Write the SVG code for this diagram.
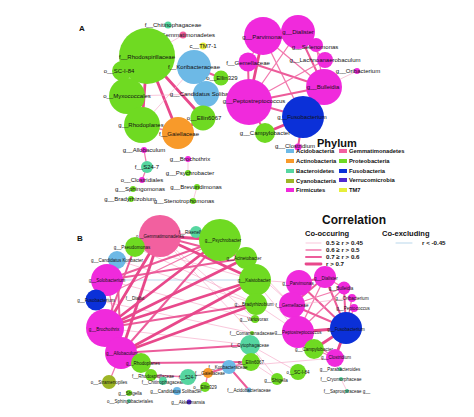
<svg xmlns="http://www.w3.org/2000/svg" width="474" height="417" viewBox="0 0 474 417">
<style>
text{font-family:"Liberation Sans",Arial,sans-serif;fill:#111}
.la text{font-size:6px;text-anchor:middle}
.lb text{font-size:4.5px;text-anchor:middle}
.pt{font-size:8px;font-weight:bold}
.lg{font-weight:bold}
.lr{font-weight:bold;font-size:6.2px}
.fir{fill:#F02ADC}.pro{fill:#6FDA22}.aci{fill:#6DB9E6}.act{fill:#F89A2A}.bac{fill:#56D6A0}
.cya{fill:#9DB526}.fus{fill:#0B30D8}.ver{fill:#5028D0}.tm7{fill:#E6EE3A}.gem{fill:#F2609F}
line{stroke-linecap:round}
.e1{stroke:#F6AFCB;stroke-width:.7}
.e2{stroke:#F27AAE;stroke-width:1.3}
.e3{stroke:#EC5C9A;stroke-width:2}
.e4{stroke:#E8488B;stroke-width:2.8}
.en{stroke:#A7CDE6;stroke-width:.8}
</style>
<rect width="474" height="417" fill="#fff"/>
<text class="pt" x="79" y="31">A</text>
<text class="pt" x="77" y="241">B</text>

<g id="connectors">
<!-- panel A -->
<line class="e1" x1="147" y1="56" x2="183" y2="35"/>
<line class="e3" x1="147" y1="56" x2="122" y2="71"/>
<line class="e4" x1="147" y1="56" x2="127" y2="96"/>
<line class="e4" x1="147" y1="56" x2="142" y2="125"/>
<line class="e4" x1="147" y1="56" x2="178" y2="133"/>
<line class="e4" x1="147" y1="56" x2="203" y2="118"/>
<line class="e3" x1="194" y1="67" x2="221" y2="78"/>
<line class="e1" x1="194" y1="67" x2="142" y2="125"/>
<line class="e1" x1="127" y1="96" x2="206" y2="94"/>
<line class="e4" x1="127" y1="96" x2="142" y2="125"/>
<line class="e4" x1="203" y1="118" x2="178" y2="133"/>
<line class="e2" x1="142" y1="125" x2="178" y2="133"/>
<line class="e4" x1="263" y1="36" x2="298" y2="32"/>
<line class="e4" x1="263" y1="36" x2="249" y2="102"/>
<line class="e2" x1="263" y1="36" x2="303" y2="117"/>
<line class="e2" x1="263" y1="36" x2="324" y2="87"/>
<line class="e2" x1="263" y1="36" x2="248" y2="62"/>
<line class="e2" x1="298" y1="32" x2="249" y2="102"/>
<line class="e3" x1="298" y1="32" x2="324" y2="87"/>
<line class="e2" x1="298" y1="32" x2="325" y2="60"/>
<line class="e2" x1="316" y1="45" x2="324" y2="87"/>
<line class="e3" x1="248" y1="62" x2="324" y2="87"/>
<line class="e3" x1="248" y1="62" x2="249" y2="102"/>
<line class="e2" x1="325" y1="60" x2="249" y2="102"/>
<line class="e3" x1="249" y1="102" x2="324" y2="87"/>
<line class="e1" x1="324" y1="87" x2="357" y2="71"/>
<line class="e3" x1="324" y1="87" x2="303" y2="117"/>
<line class="e3" x1="249" y1="102" x2="303" y2="117"/>
<line class="e3" x1="249" y1="102" x2="265" y2="133"/>
<line class="e4" x1="303" y1="117" x2="265" y2="133"/>
<line class="e3" x1="303" y1="117" x2="298" y2="147"/>
<line class="e2" x1="144" y1="150" x2="147" y2="167"/>
<line class="e2" x1="147" y1="167" x2="142" y2="180"/>
<line class="e1" x1="188" y1="159" x2="188" y2="173"/>
<line class="e1" x1="197" y1="187" x2="193" y2="201"/>
<!-- panel B left ring to middle column -->
<line class="e1" x1="220" y1="240" x2="292" y2="305"/>
<line class="e1" x1="220" y1="240" x2="298" y2="332"/>
<line class="e1" x1="160" y1="236" x2="255" y2="319"/>
<line class="e1" x1="135" y1="247" x2="255" y2="280"/>
<line class="e1" x1="117" y1="260" x2="256" y2="304"/>
<line class="e1" x1="107" y1="280" x2="255" y2="319"/>
<line class="e1" x1="96" y1="300" x2="252" y2="333"/>
<line class="e1" x1="105" y1="328" x2="250" y2="345"/>
<line class="e1" x1="246" y1="258" x2="292" y2="305"/>
<line class="e1" x1="256" y1="304" x2="298" y2="332"/>
<line class="e1" x1="255" y1="280" x2="299" y2="283"/>
<line class="e1" x1="160" y1="236" x2="252" y2="333"/>
<line class="e1" x1="135" y1="247" x2="256" y2="304"/>
<line class="e1" x1="196" y1="232" x2="160" y2="236"/>
<line class="e1" x1="250" y1="345" x2="298" y2="372"/>
<line class="e1" x1="250" y1="345" x2="277" y2="379"/>
<line class="e1" x1="251" y1="362" x2="277" y2="379"/>
<line class="e1" x1="229" y1="367" x2="335" y2="358"/>
<line class="en" x1="107" y1="280" x2="255" y2="280"/>
<line class="e2" x1="196" y1="232" x2="220" y2="240"/>
<line class="e2" x1="96" y1="300" x2="220" y2="240"/>
<line class="e2" x1="246" y1="258" x2="255" y2="280"/>
<line class="e2" x1="255" y1="280" x2="256" y2="304"/>
<line class="e2" x1="107" y1="280" x2="121" y2="353"/>
<line class="e2" x1="121" y1="353" x2="141" y2="363"/>
<line class="e2" x1="121" y1="353" x2="109" y2="382"/>
<line class="e2" x1="141" y1="363" x2="163" y2="381"/>
<line class="e2" x1="151" y1="375" x2="188" y2="377"/>
<line class="e2" x1="229" y1="367" x2="251" y2="362"/>
<line class="e2" x1="208" y1="373" x2="205" y2="387"/>
<line class="e1" x1="208" y1="373" x2="188" y2="377"/>
<line class="e3" x1="229" y1="367" x2="249" y2="390"/>
<line class="e3" x1="229" y1="367" x2="208" y2="373"/>
<line class="e3" x1="141" y1="363" x2="151" y2="375"/>
<line class="e3" x1="141" y1="363" x2="251" y2="362"/>
<line class="e3" x1="121" y1="353" x2="250" y2="345"/>
<line class="e3" x1="107" y1="280" x2="220" y2="240"/>
<line class="e3" x1="107" y1="280" x2="246" y2="258"/>
<line class="e3" x1="135" y1="247" x2="105" y2="328"/>
<line class="e3" x1="117" y1="260" x2="121" y2="353"/>
<line class="e3" x1="160" y1="236" x2="246" y2="258"/>
<line class="e3" x1="105" y1="328" x2="256" y2="304"/>
<line class="e3" x1="121" y1="353" x2="220" y2="240"/>
<line class="e3" x1="220" y1="240" x2="246" y2="258"/>
<line class="e4" x1="160" y1="236" x2="220" y2="240"/>
<line class="e4" x1="160" y1="236" x2="105" y2="328"/>
<line class="e4" x1="160" y1="236" x2="121" y2="353"/>
<line class="e4" x1="160" y1="236" x2="255" y2="280"/>
<line class="e4" x1="105" y1="328" x2="220" y2="240"/>
<line class="e4" x1="105" y1="328" x2="246" y2="258"/>
<line class="e4" x1="105" y1="328" x2="255" y2="280"/>
<line class="e4" x1="121" y1="353" x2="255" y2="280"/>
<line class="e4" x1="121" y1="353" x2="256" y2="304"/>
<!-- panel B right cluster -->
<line class="e3" x1="299" y1="283" x2="325" y2="277"/>
<line class="e3" x1="299" y1="283" x2="292" y2="305"/>
<line class="e3" x1="299" y1="283" x2="298" y2="332"/>
<line class="e3" x1="299" y1="283" x2="346" y2="328"/>
<line class="e3" x1="325" y1="277" x2="292" y2="305"/>
<line class="e2" x1="325" y1="277" x2="298" y2="332"/>
<line class="e3" x1="325" y1="277" x2="346" y2="328"/>
<line class="e2" x1="325" y1="277" x2="344" y2="288"/>
<line class="e2" x1="344" y1="288" x2="292" y2="305"/>
<line class="e2" x1="344" y1="288" x2="298" y2="332"/>
<line class="e3" x1="344" y1="288" x2="346" y2="328"/>
<line class="e2" x1="352" y1="298" x2="346" y2="328"/>
<line class="e2" x1="354" y1="308" x2="346" y2="328"/>
<line class="e1" x1="352" y1="298" x2="292" y2="305"/>
<line class="e3" x1="292" y1="305" x2="298" y2="332"/>
<line class="e3" x1="292" y1="305" x2="346" y2="328"/>
<line class="e4" x1="298" y1="332" x2="346" y2="328"/>
<line class="e3" x1="298" y1="332" x2="314" y2="349"/>
<line class="e4" x1="346" y1="328" x2="314" y2="349"/>
<line class="e4" x1="346" y1="328" x2="335" y2="358"/>
<line class="e2" x1="314" y1="349" x2="335" y2="358"/>
<line class="e2" x1="298" y1="332" x2="335" y2="358"/>
<line class="e1" x1="335" y1="358" x2="340" y2="369"/>
<line class="e1" x1="341" y1="379" x2="347" y2="391"/>
</g>

<!-- Panel A nodes -->
<g class="la">
<g id="a-chitinophagaceae"><circle class="bac" cx="168" cy="25" r="3.5"/><text x="173" y="25" dy=".35em">f__Chitinophagaceae</text></g>
<g id="a-gemmatimonadetes"><circle class="gem" cx="183" cy="35" r="3.5"/><text x="183" y="35" dy=".35em">o__Gemmatimonadetes</text></g>
<g id="a-tm7"><circle class="tm7" cx="203" cy="46" r="3.5"/><text x="203" y="46" dy=".35em">c__TM7-1</text></g>
<g id="a-rhodospirillaceae"><circle class="pro" cx="147" cy="56" r="28"/><text x="147" y="57" dy=".35em">f__Rhodospirillaceae</text></g>
<g id="a-sci84"><circle class="pro" cx="122" cy="71" r="10"/><text x="119" y="71" dy=".35em">o__SC-I-84</text></g>
<g id="a-koribacteraceae"><circle class="aci" cx="194" cy="67" r="17"/><text x="194" y="67" dy=".35em">f__Koribacteraceae</text></g>
<g id="a-ellin329"><circle class="pro" cx="221" cy="78" r="7.5"/><text x="222" y="78" dy=".35em">o__Ellin329</text></g>
<g id="a-myxococcales"><circle class="pro" cx="127" cy="96" r="18"/><text x="127" y="96" dy=".35em">o__Myxococcales</text></g>
<g id="a-solibacter"><circle class="aci" cx="206" cy="94" r="13"/><text x="204" y="94" dy=".35em">g__Candidatus Solibacter</text></g>
<g id="a-ellin6067"><circle class="pro" cx="203" cy="118" r="12.5"/><text x="204" y="118" dy=".35em">o__Ellin6067</text></g>
<g id="a-rhodoplanes"><circle class="pro" cx="142" cy="125" r="18"/><text x="141" y="125" dy=".35em">g__Rhodoplanes</text></g>
<g id="a-gaiellaceae"><circle class="act" cx="178" cy="133" r="16"/><text x="179" y="134" dy=".35em">f__Gaiellaceae</text></g>
<g id="a-parvimonas"><circle class="fir" cx="263" cy="36" r="19"/><text x="263" y="37" dy=".35em">g__Parvimonas</text></g>
<g id="a-dialister"><circle class="fir" cx="298" cy="32" r="17"/><text x="298" y="32" dy=".35em">g__Dialister</text></g>
<g id="a-selenomonas"><circle class="fir" cx="316" cy="45" r="7"/><text x="315" y="47" dy=".35em">g__Selenomonas</text></g>
<g id="a-gemellaceae"><circle class="fir" cx="248" cy="62" r="9.5"/><text x="248" y="63" dy=".35em">f__Gemellaceae</text></g>
<g id="a-lachno"><circle class="fir" cx="325" cy="60" r="8"/><text x="325" y="60" dy=".35em">g__Lachnoanaerobaculum</text></g>
<g id="a-oribacterium"><circle class="fir" cx="357" cy="71" r="3"/><text x="358" y="71" dy=".35em">g__Oribacterium</text></g>
<g id="a-bulleidia"><circle class="fir" cx="324" cy="87" r="18"/><text x="323" y="87" dy=".35em">g__Bulleidia</text></g>
<g id="a-peptostreptococcus"><circle class="fir" cx="249" cy="102" r="23"/><text x="254" y="101" dy=".35em">g__Peptostreptococcus</text></g>
<g id="a-fusobacterium"><circle class="fus" cx="303" cy="117" r="21"/><text x="302" y="117" dy=".35em">g__Fusobacterium</text></g>
<g id="a-campylobacter"><circle class="pro" cx="265" cy="133" r="10"/><text x="265" y="133" dy=".35em">g__Campylobacter</text></g>
<g id="a-clostridium"><circle class="fir" cx="298" cy="147" r="3.5"/><text x="295" y="146" dy=".35em">g__Clostridium</text></g>
<g id="a-allobaculum"><circle class="fir" cx="144" cy="150" r="3"/><text x="144" y="150" dy=".35em">g__Allobaculum</text></g>
<g id="a-s247"><circle class="bac" cx="147" cy="167" r="6"/><text x="147" y="167" dy=".35em">f__S24-7</text></g>
<g id="a-clostridiales"><circle class="fir" cx="142" cy="180" r="3"/><text x="142" y="180" dy=".35em">o__Clostridiales</text></g>
<g id="a-sphingomonas"><circle class="pro" cx="133" cy="189" r="3"/><text x="140" y="189" dy=".35em">g__Sphingomonas</text></g>
<g id="a-bradyrhizobium"><circle class="pro" cx="131" cy="199" r="3"/><text x="130" y="199" dy=".35em">g__Bradyrhizobium</text></g>
<g id="a-brochothrix"><circle class="fir" cx="188" cy="159" r="3"/><text x="190" y="159" dy=".35em">g__Brochothrix</text></g>
<g id="a-psychrobacter"><circle class="pro" cx="188" cy="173" r="3"/><text x="190" y="173" dy=".35em">g__Psychrobacter</text></g>
<g id="a-brevundimonas"><circle class="pro" cx="197" cy="187" r="3"/><text x="196" y="187" dy=".35em">g__Brevundimonas</text></g>
<g id="a-stenotrophomonas"><circle class="pro" cx="193" cy="201" r="3"/><text x="184" y="201" dy=".35em">g__Stenotrophomonas</text></g>
</g>

<!-- Phylum legend -->
<g id="legend-phylum">
<text class="lg" x="317" y="147" font-size="11">Phylum</text>
<rect class="aci" x="286" y="149" width="8" height="4"/><text class="lg" x="296" y="153" font-size="5.8">Acidobacteria</text>
<rect class="act" x="286" y="159" width="8" height="4"/><text class="lg" x="296" y="163" font-size="5.8">Actinobacteria</text>
<rect class="bac" x="286" y="169" width="8" height="4"/><text class="lg" x="296" y="173" font-size="5.8">Bacteroidetes</text>
<rect class="cya" x="286" y="179" width="8" height="4"/><text class="lg" x="296" y="183" font-size="5.8">Cyanobacteria</text>
<rect class="fir" x="286" y="188" width="8" height="4"/><text class="lg" x="296" y="192" font-size="5.8">Firmicutes</text>
<rect class="gem" x="339" y="149" width="8" height="4"/><text class="lg" x="349" y="153" font-size="5.8">Gemmatimonadetes</text>
<rect class="pro" x="339" y="159" width="8" height="4"/><text class="lg" x="349" y="163" font-size="5.8">Proteobacteria</text>
<rect class="fus" x="339" y="169" width="8" height="4"/><text class="lg" x="349" y="173" font-size="5.8">Fusobacteria</text>
<rect class="ver" x="339" y="178" width="8" height="4"/><text class="lg" x="349" y="182" font-size="5.8">Verrucomicrobia</text>
<rect class="tm7" x="339" y="188" width="8" height="4"/><text class="lg" x="349" y="192" font-size="5.8">TM7</text>
</g>

<!-- Correlation legend -->
<g id="legend-correlation">
<text class="lg" x="322" y="224" font-size="12">Correlation</text>
<text class="lg" x="305" y="235.5" font-size="7.5">Co-occuring</text>
<text class="lg" x="382" y="235.5" font-size="7.5">Co-excluding</text>
<line class="e1" x1="306" y1="243" x2="321" y2="243"/><text class="lr" x="326" y="245.2">0.5 ≥ r &gt; 0.45</text>
<line class="e2" x1="306" y1="250" x2="321" y2="250"/><text class="lr" x="326" y="252.2">0.6 ≥ r &gt; 0.5</text>
<line class="e3" x1="306" y1="257" x2="321" y2="257"/><text class="lr" x="326" y="259.2">0.7 ≥ r &gt; 0.6</text>
<line class="e4" x1="306" y1="264" x2="321" y2="264"/><text class="lr" x="326" y="266.2">r &gt; 0.7</text>
<line class="en" x1="396" y1="243" x2="412" y2="243"/><text class="lr" x="422" y="245.2">r &lt; -0.45</text>
</g>

<!-- Panel B nodes -->
<g class="lb">
<g id="b-gemmatimonadetes"><circle class="gem" cx="160" cy="236" r="21"/><text x="160" y="236" dy=".35em">o__Gemmatimonadetes</text></g>
<g id="b-rikenellaceae"><circle class="bac" cx="196" cy="232" r="6"/><text x="196" y="232" dy=".35em">f__Rikenellaceae</text></g>
<g id="b-psychrobacter"><circle class="pro" cx="220" cy="240" r="21"/><text x="223" y="240" dy=".35em">g__Psychrobacter</text></g>
<g id="b-pseudomonas"><circle class="pro" cx="135" cy="247" r="10"/><text x="132" y="247" dy=".35em">g__Pseudomonas</text></g>
<g id="b-koribacter"><circle class="aci" cx="117" cy="260" r="9"/><text x="117" y="260" dy=".35em">g__Candidatus Koribacter</text></g>
<g id="b-solobacterium"><circle class="fir" cx="107" cy="280" r="16"/><text x="107" y="280" dy=".35em">g__Solobacterium</text></g>
<g id="b-dialist"><text x="135" y="298" dy=".35em">f__Dialist</text></g>
<g id="b-fusobacterium-l"><circle class="fus" cx="96" cy="300" r="10.5"/><text x="96" y="300" dy=".35em">g__Fusobacterium</text></g>
<g id="b-brochothrix"><circle class="fir" cx="105" cy="328" r="19"/><text x="104" y="329" dy=".35em">g__Brochothrix</text></g>
<g id="b-allobaculum"><circle class="fir" cx="121" cy="353" r="16"/><text x="122" y="353" dy=".35em">g__Allobaculum</text></g>
<g id="b-rhodoplanes"><circle class="pro" cx="141" cy="363" r="10"/><text x="143" y="363" dy=".35em">g__Rhodoplanes</text></g>
<g id="b-stramenopiles"><circle class="cya" cx="109" cy="382" r="7"/><text x="109" y="382" dy=".35em">o__Stramenopiles</text></g>
<g id="b-rhodospirillaceae"><circle class="pro" cx="151" cy="375" r="6"/><text x="153" y="376" dy=".35em">f__Rhodospirillaceae</text></g>
<g id="b-chitinophagaceae"><circle class="bac" cx="163" cy="381" r="4"/><text x="163" y="382" dy=".35em">f__Chitinophagaceae</text></g>
<g id="b-s247"><circle class="bac" cx="188" cy="377" r="8"/><text x="188" y="377" dy=".35em">f__S24-7</text></g>
<g id="b-solibacter"><circle class="aci" cx="177" cy="391" r="4"/><text x="176" y="391" dy=".35em">g__Candidatus Solibacter</text></g>
<g id="b-akkermansia"><circle class="ver" cx="189" cy="402" r="2.5"/><text x="188" y="402" dy=".35em">g__Akkermansia</text></g>
<g id="b-shigella"><circle class="pro" cx="129" cy="393" r="3"/><text x="130" y="393" dy=".35em">g__Shigella</text></g>
<g id="b-sphingobacteriales"><circle class="bac" cx="129" cy="401" r="2"/><text x="130" y="401" dy=".35em">o__Sphingobacteriales</text></g>
<g id="b-acinetobacter"><circle class="pro" cx="246" cy="258" r="11"/><text x="244" y="258" dy=".35em">g__Acinetobacter</text></g>
<g id="b-kaistobacter"><circle class="pro" cx="255" cy="280" r="16"/><text x="254" y="280" dy=".35em">g__Kaistobacter</text></g>
<g id="b-bradyrhizobium"><circle class="pro" cx="256" cy="304" r="11"/><text x="254" y="304" dy=".35em">g__Bradyrhizobium</text></g>
<g id="b-variovorax"><circle class="pro" cx="255" cy="319" r="4"/><text x="254" y="319" dy=".35em">g__Variovorax</text></g>
<g id="b-comamonadaceae"><circle class="pro" cx="252" cy="333" r="2"/><text x="252" y="333" dy=".35em">f__Comamonadaceae</text></g>
<g id="b-cytophagaceae"><circle class="bac" cx="250" cy="345" r="10"/><text x="250" y="345" dy=".35em">f__Cytophagaceae</text></g>
<g id="b-ellin6067"><circle class="pro" cx="251" cy="362" r="9"/><text x="251" y="362" dy=".35em">o__Ellin6067</text></g>
<g id="b-koribacteraceae"><circle class="aci" cx="229" cy="367" r="7"/><text x="228" y="367" dy=".35em">f__Koribacteraceae</text></g>
<g id="b-gaiellaceae"><circle class="act" cx="208" cy="373" r="5"/><text x="210" y="373" dy=".35em">f__Gaiellaceae</text></g>
<g id="b-ellin329"><circle class="pro" cx="205" cy="387" r="5"/><text x="205" y="387" dy=".35em">o__Ellin329</text></g>
<g id="b-acidobacteriaceae"><circle class="aci" cx="249" cy="390" r="2.5"/><text x="249" y="390" dy=".35em">f__Acidobacteriaceae</text></g>
<g id="b-bhrella"><circle class="pro" cx="277" cy="379" r="6"/><text x="276" y="380" dy=".35em">g__Shigella</text></g>
<g id="b-sci84"><circle class="pro" cx="298" cy="372" r="8"/><text x="298" y="372" dy=".35em">o__SC-I-84</text></g>
<g id="b-parvimonas"><circle class="fir" cx="299" cy="283" r="13"/><text x="298" y="283" dy=".35em">g__Parvimonas</text></g>
<g id="b-dialister"><circle class="fir" cx="325" cy="277" r="11"/><text x="326" y="278" dy=".35em">g__Dialister</text></g>
<g id="b-bulleidia"><circle class="fir" cx="344" cy="288" r="6.5"/><text x="341" y="288" dy=".35em">g__Bulleidia</text></g>
<g id="b-oribacterium"><circle class="fir" cx="352" cy="298" r="4"/><text x="352" y="298" dy=".35em">g__Oribacterium</text></g>
<g id="b-peptococcus"><circle class="fir" cx="354" cy="308" r="4"/><text x="353" y="308" dy=".35em">g__Peptococcus</text></g>
<g id="b-gemellaceae"><circle class="fir" cx="292" cy="305" r="13"/><text x="292" y="305" dy=".35em">f__Gemellaceae</text></g>
<g id="b-peptostreptococcus"><circle class="fir" cx="298" cy="332" r="16"/><text x="298" y="332" dy=".35em">g__Peptostreptococcus</text></g>
<g id="b-fusobacterium"><circle class="fus" cx="346" cy="328" r="16"/><text x="346" y="329" dy=".35em">g__Fusobacterium</text></g>
<g id="b-campylobacter"><circle class="pro" cx="314" cy="349" r="10"/><text x="314" y="349" dy=".35em">g__Campylobacter</text></g>
<g id="b-clostridium"><circle class="fir" cx="335" cy="358" r="9"/><text x="336" y="357" dy=".35em">g__Clostridium</text></g>
<g id="b-parabacteroides"><circle class="bac" cx="340" cy="369" r="2"/><text x="340" y="369" dy=".35em">g__Parabacteroides</text></g>
<g id="b-cryomorphaceae"><circle class="bac" cx="341" cy="379" r="2"/><text x="341" y="379" dy=".35em">f__Cryomorphaceae</text></g>
<g id="b-saprospiraceae"><circle class="bac" cx="347" cy="391" r="2"/><text x="347" y="391" dy=".35em">f__Saprospiraceae g__</text></g>
</g>
</svg>
